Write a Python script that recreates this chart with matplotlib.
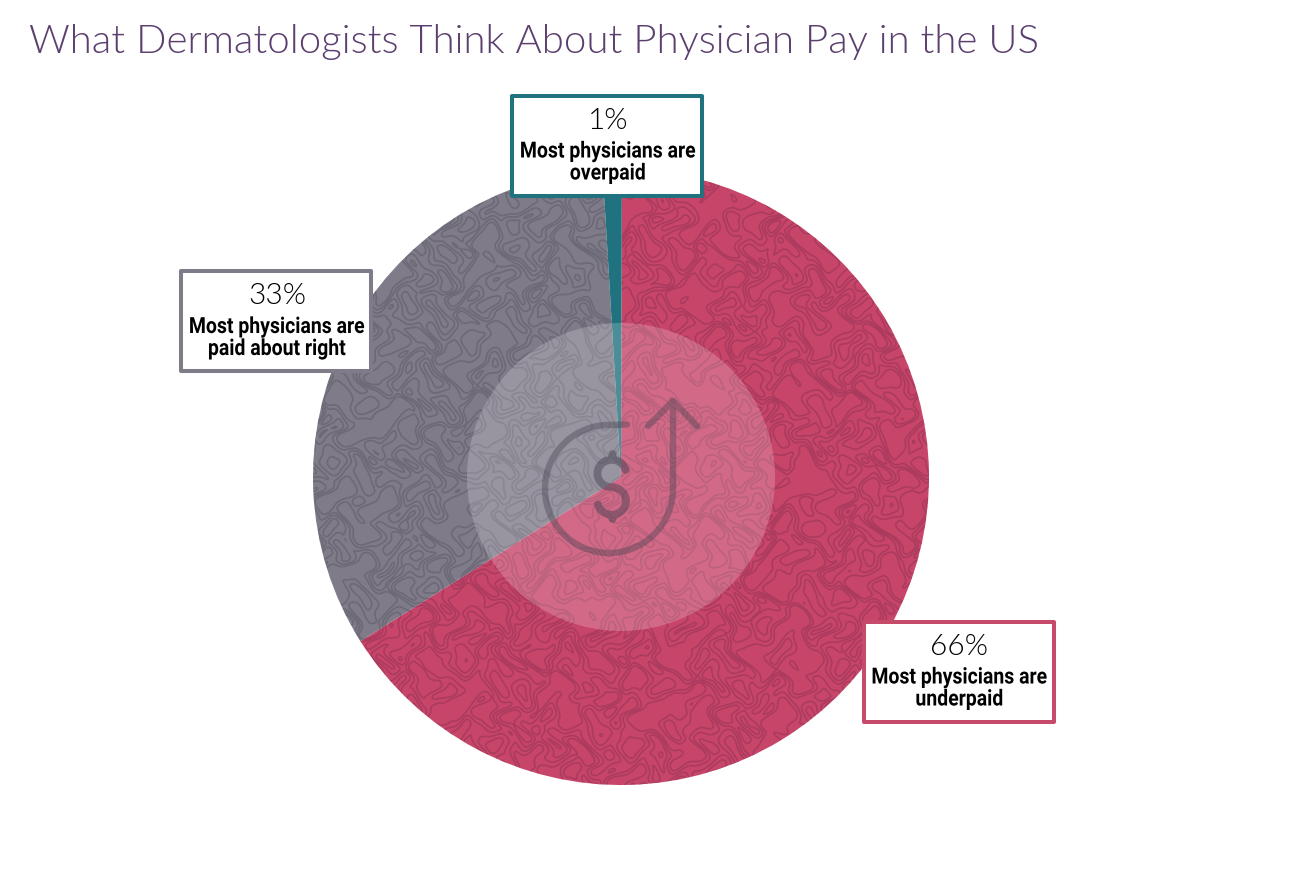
import os
import numpy as np
import matplotlib
matplotlib.use("Agg")
import matplotlib.pyplot as plt
from matplotlib.patches import Circle, Rectangle, PathPatch
from matplotlib.path import Path
from matplotlib.transforms import Affine2D
from matplotlib.patheffects import AbstractPathEffect
from matplotlib import font_manager as fm

# Survey results
title = "What Dermatologists Think About Physician Pay in the US"
answers = ["Most physicians are\nunderpaid", "Most physicians are\npaid about right", "Most physicians are\noverpaid"]
shares = [66, 33, 1]
share_labels = ["66%", "33%", "1%"]

# Styling
slice_colors = ["#C8456A", "#7F7B89", "#20727E"]
border_colors = ["#C64A69", "#7F7B89", "#20727E"]
TITLE_COLOR = "#5B3F6E"
W, H = 1290, 878

# Layout, in figure pixels measured from the top-left corner
CENTER = (621, 478)
RADIUS = 308
box_centers = [(958.5, 672.5), (276, 322), (607, 146.5)]
BOX_W, BOX_H = 190, 100


def fy(y):
    return H - y


def light_face(stem, fallback):
    """Pick a font file by its stem so the exact weight is used."""
    for entry in fm.fontManager.ttflist:
        if os.path.basename(entry.fname).startswith(stem):
            return fm.FontProperties(fname=entry.fname)
    return fm.FontProperties(family=fallback, weight="light")


class SqueezeX(AbstractPathEffect):
    """Condense glyph outlines horizontally about a fixed pixel column."""

    def __init__(self, pivot, factor):
        super().__init__()
        self.pivot, self.factor = pivot, factor

    def draw_path(self, renderer, gc, tpath, affine, rgbFace=None):
        squeeze = Affine2D().translate(-self.pivot, 0).scale(self.factor, 1).translate(self.pivot, 0)
        renderer.draw_path(gc, tpath, affine + squeeze, rgbFace)


fig = plt.figure(figsize=(W / 100, H / 100), dpi=100, facecolor="white")
ax = fig.add_axes([0, 0, 1, 1])

wedges, _ = ax.pie(
    shares,
    colors=slice_colors,
    center=(CENTER[0], fy(CENTER[1])),
    radius=RADIUS,
    startangle=90 - 0.17,
    counterclock=False,
    wedgeprops={"linewidth": 0, "zorder": 1},
)
ax.set_xlim(0, W)
ax.set_ylim(0, H)
ax.set_aspect("auto")
ax.axis("off")

# Maze-like line texture over the two large slices
gx, gy = np.meshgrid(np.arange(300, 940, 1.0), np.arange(fy(800), fy(160), 1.0))
wx = gx + 9 * np.sin(gy / 11.0) + 6 * np.cos(gy / 5.3 + gx / 19.0)
wy = gy + 9 * np.cos(gx / 12.0) + 6 * np.sin(gx / 5.9 - gy / 23.0)
field = (np.sin(wx / 8.5) * np.cos(wy / 10.0)
         + 0.5 * np.sin((wx + wy) / 29.0 + 1.3)
         + 0.4 * np.cos((wx - 1.7 * wy) / 43.0))
for wedge, line_color in zip(wedges[:2], ["#7A2C4A", "#4F4C5A"]):
    lines = ax.contour(gx, gy, field, levels=[-0.6, -0.15, 0.3, 0.75],
                       colors=line_color, linewidths=1.25, linestyles="solid",
                       alpha=0.36, zorder=2)
    lines.set_clip_path(wedge)

# Pale disc at the middle of the pie
ax.add_patch(Circle((CENTER[0], fy(CENTER[1])), 154, facecolor="white",
                    edgecolor="none", alpha=0.2, zorder=3))

# Rising arrow emblem, each stroke group as one path so overlaps stay even
ICON = "#4A4453"
ICON_ALPHA = 0.42
theta = np.radians(np.linspace(90, 360, 120))
hook = np.column_stack([609 + 64 * np.cos(theta), fy(490) + 64 * np.sin(theta)])
verts = np.vstack([[[627, fy(425.5)]], hook, [[673, fy(402)]],
                   [[648, fy(427)]], [[673, fy(402)]], [[697, fy(427)]]])
n_hook = len(hook) + 2
codes = [Path.MOVETO] + [Path.LINETO] * (n_hook - 1) + [Path.MOVETO, Path.LINETO, Path.LINETO]
ax.add_patch(PathPatch(Path(verts, codes), fill=False, edgecolor=ICON, alpha=ICON_ALPHA,
                       lw=4.6, capstyle="round", joinstyle="round", zorder=4))

# Dollar sign built from two opposed arcs and short stems
upper_a = np.radians(np.linspace(15, 270, 50))
lower_a = np.radians(np.linspace(90, -165, 50))
s_curve = np.vstack([
    np.column_stack([611.7 + 14.3 * np.cos(upper_a), fy(474.5) + 13.7 * np.sin(upper_a)]),
    np.column_stack([611.7 + 14.3 * np.cos(lower_a), fy(502) + 13.7 * np.sin(lower_a)]),
])
dollar_verts = np.vstack([s_curve, [[612.5, fy(455)], [612.5, fy(460)], [612.5, fy(516)], [612.5, fy(520)]]])
dollar_codes = [Path.MOVETO] + [Path.LINETO] * (len(s_curve) - 1) + [Path.MOVETO, Path.LINETO, Path.MOVETO, Path.LINETO]
ax.add_patch(PathPatch(Path(dollar_verts, dollar_codes), fill=False, edgecolor=ICON, alpha=ICON_ALPHA + 0.08,
                       lw=5.6, capstyle="round", joinstyle="round", zorder=4))

# Callout boxes
light = light_face("Lato-Light", "Roboto")
for (cx, cy), pct, answer, edge in zip(box_centers, share_labels, answers, border_colors):
    ax.add_patch(Rectangle((cx - BOX_W / 2, fy(cy) - BOX_H / 2), BOX_W, BOX_H,
                           facecolor="white", edgecolor=edge, linewidth=2.9,
                           joinstyle="round", zorder=5))
    pct_font = light.copy()
    pct_font.set_size(21.5)
    ax.text(cx + 1, fy(cy - 25.5), pct, ha="center", va="center", fontproperties=pct_font,
            color="black", zorder=6)
    caption = ax.text(cx + 1, fy(cy + 17), answer, ha="center", va="center", fontsize=16,
                      family="Roboto", fontweight="bold", color="black",
                      linespacing=1.0, zorder=6)
    caption.set_path_effects([SqueezeX(cx + 1, 0.875)])

title_font = light.copy()
title_font.set_size(28.9)
ax.text(29, fy(42), title, ha="left", va="center", fontproperties=title_font,
        color=TITLE_COLOR, zorder=6)

fig.savefig("out.png", dpi=100, facecolor="white")
